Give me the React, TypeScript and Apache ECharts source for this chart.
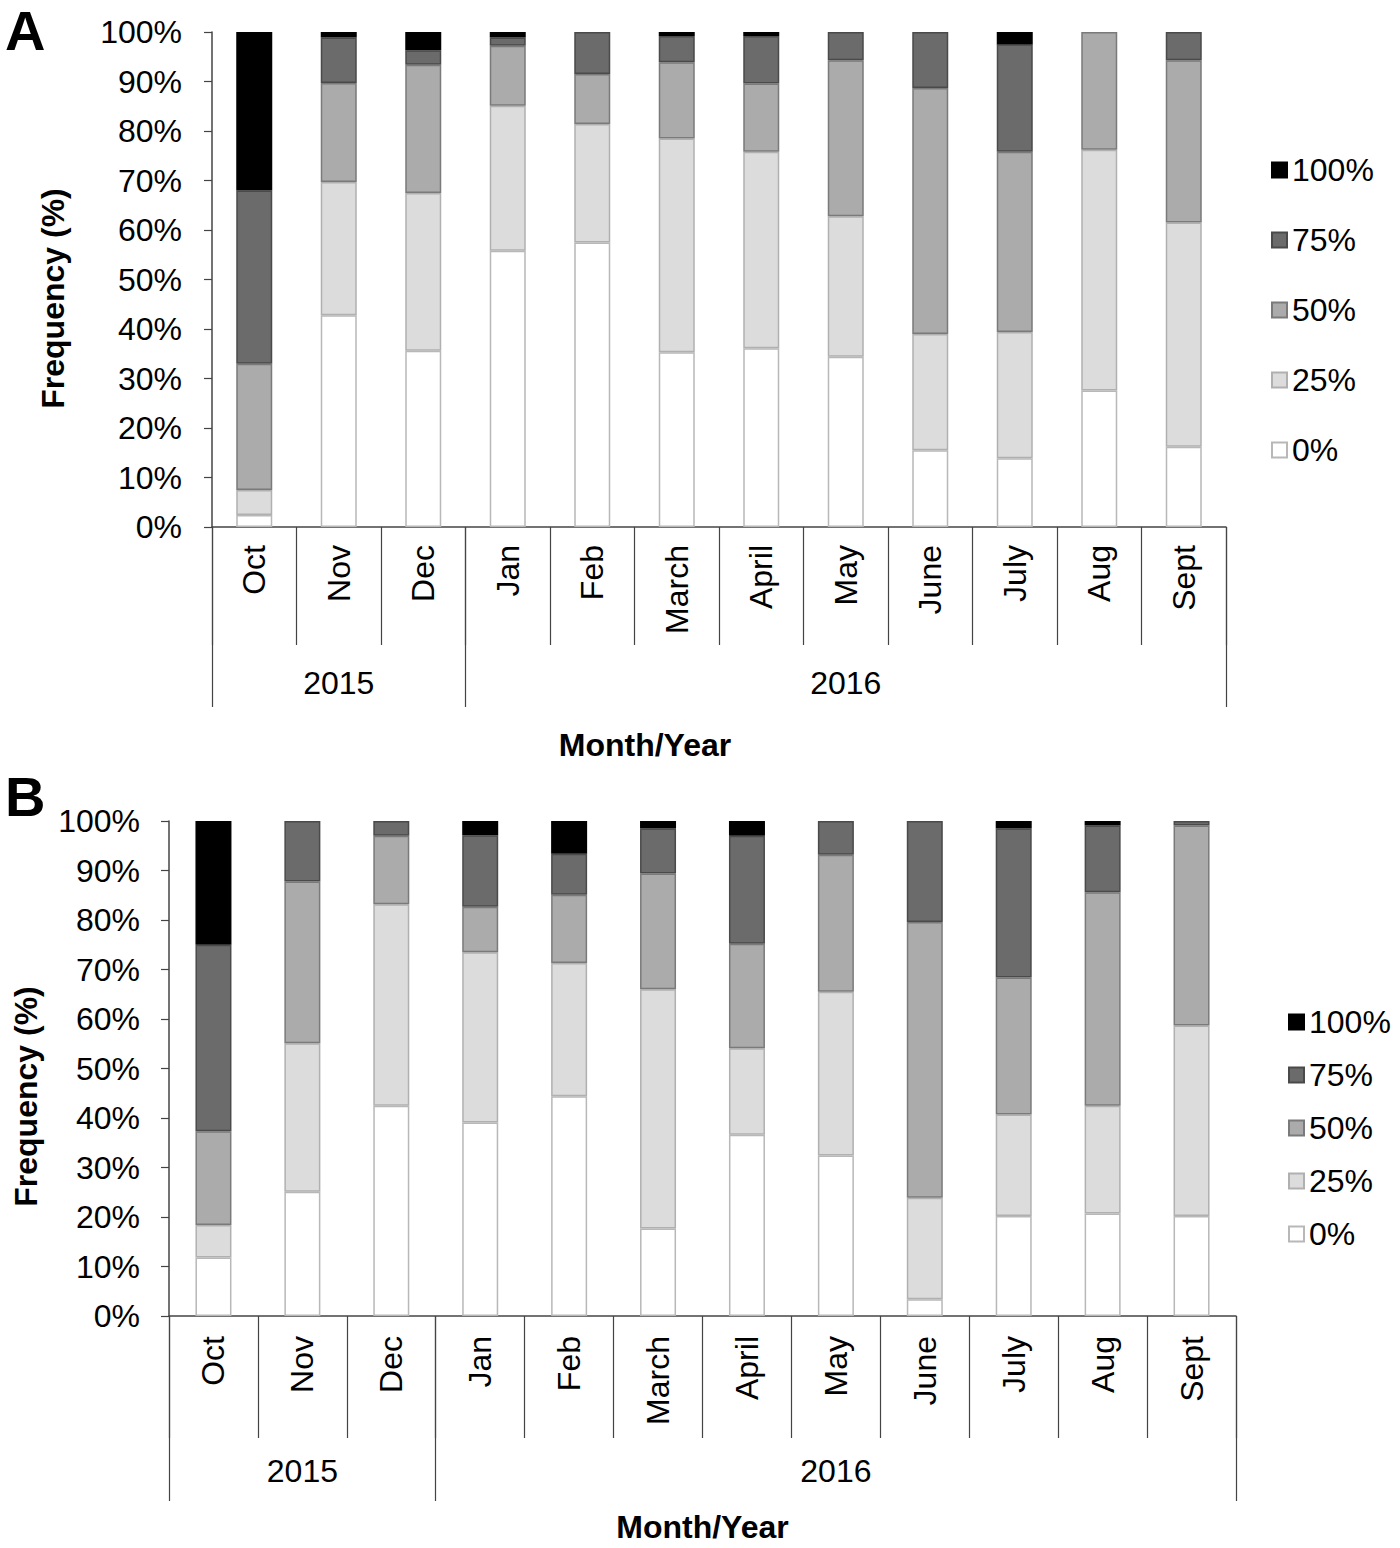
import React, { useEffect, useRef } from "react";
import * as echarts from "echarts";

const months = ["Oct", "Nov", "Dec", "Jan", "Feb", "March", "April", "May", "June", "July", "Aug", "Sept"];
const yearNames = ["2015", "2016"];
const yearStarts = [0, 3];
const yearCounts = [3, 9];
const yTicks = [0, 100, 10];

const seriesNames = ["0%", "25%", "50%", "75%", "100%"];
const legendOrder = ["100%", "75%", "50%", "25%", "0%"];

// Panel A
const a0 = [2.4, 42.8, 35.6, 55.8, 57.5, 35.3, 36.1, 34.4, 15.5, 13.9, 27.6, 16.2];
const a25 = [5.1, 26.9, 31.9, 29.3, 23.9, 43.2, 39.7, 28.4, 23.5, 25.5, 48.6, 45.3];
const a50 = [25.5, 20.0, 25.9, 12.1, 10.1, 15.4, 13.8, 31.5, 49.7, 36.4, 23.8, 32.8];
const a75 = [35.0, 9.2, 2.9, 1.7, 8.5, 5.3, 9.6, 5.7, 11.3, 21.7, 0, 5.7];
const a100 = [32.0, 1.1, 3.7, 1.1, 0, 0.8, 0.8, 0, 0, 2.5, 0, 0];

// Panel B
const b0 = [11.8, 25.1, 42.5, 39.1, 44.4, 17.7, 36.6, 32.4, 3.4, 20.2, 20.7, 20.2];
const b25 = [6.6, 30.0, 40.7, 34.4, 26.9, 48.3, 17.5, 33.1, 20.5, 20.5, 21.8, 38.5];
const b50 = [18.9, 32.7, 13.8, 9.2, 13.8, 23.4, 21.1, 27.7, 55.7, 27.7, 43.1, 40.4];
const b75 = [37.7, 12.2, 3.0, 14.4, 8.3, 9.1, 21.8, 6.8, 20.4, 30.1, 13.5, 0.9];
const b100 = [25.0, 0, 0, 2.9, 6.6, 1.5, 3.0, 0, 0, 1.5, 0.9, 0];

const FONT = "'Liberation Sans', Arial, sans-serif";
const fills = ["#ffffff", "#dcdcdc", "#ababab", "#6b6b6b", "#000000"];
const borders = ["#b8b8b8", "#b0b0b0", "#7a7a7a", "#4a4a4a", "#000000"];

const labelIdx = yearStarts.map((s, i) => s + Math.floor(yearCounts[i] / 2));

function monthAxis(gridIndex: number, nameGap: number, tickLen: number, labelMargin: number, namePad: number[]) {
  return {
    type: "category",
    gridIndex,
    position: "bottom",
    data: months,
    axisLine: { show: true, lineStyle: { color: "#444", width: 1.5 } },
    axisTick: { show: true, interval: 0, length: tickLen, lineStyle: { color: "#444", width: 1.2 } },
    axisLabel: { interval: 0, rotate: 90, fontSize: 32, color: "#000", margin: labelMargin, fontFamily: FONT },
    name: "Month/Year",
    nameLocation: "middle",
    nameGap,
    nameTextStyle: { fontSize: 32, fontWeight: "bold", color: "#000", fontFamily: FONT, padding: namePad },
  };
}

function yearAxis(gridIndex: number, tickLen: number, labelMargin: number) {
  return {
    type: "category",
    gridIndex,
    position: "bottom",
    data: months,
    axisLine: { show: false },
    axisTick: {
      show: true,
      interval: (i: number) => yearStarts.indexOf(i) >= 0,
      length: tickLen,
      lineStyle: { color: "#444", width: 1.2 },
    },
    axisLabel: {
      interval: (i: number) => labelIdx.indexOf(i) >= 0,
      formatter: (_v: string, i: number) => {
        const k = labelIdx.indexOf(i);
        return k >= 0 ? yearNames[k] : "";
      },
      fontSize: 32,
      color: "#000",
      margin: labelMargin,
      fontFamily: FONT,
    },
  };
}

function valueAxis(gridIndex: number, nameGap: number, labelMargin: number, namePad: number[]) {
  return {
    type: "value",
    gridIndex,
    min: yTicks[0],
    max: yTicks[1],
    interval: yTicks[2],
    axisLine: { show: true, lineStyle: { color: "#444", width: 1.5 } },
    axisTick: { show: true, length: 8, lineStyle: { color: "#444", width: 1.2 } },
    splitLine: { show: false },
    axisLabel: { formatter: "{value}%", fontSize: 32, color: "#000", margin: labelMargin, fontFamily: FONT },
    name: "Frequency (%)",
    nameLocation: "middle",
    nameRotate: 90,
    nameGap,
    nameTextStyle: { fontSize: 32, fontWeight: "bold", color: "#000", fontFamily: FONT, padding: namePad },
  };
}

function makeSeries(data: number[][], xIdx: number, yIdx: number, stack: string) {
  return data.map((vals, k) => ({
    type: "bar",
    name: seriesNames[k],
    stack,
    xAxisIndex: xIdx,
    yAxisIndex: yIdx,
    barWidth: 36,
    data: vals.map((v) => (v === 0 ? null : v)),
    itemStyle: { color: fills[k], borderColor: borders[k], borderWidth: 1.5 },
  }));
}

function legendAt(left: number, top: number, gap: number) {
  return {
    data: legendOrder.map((n) => ({ name: n, icon: "rect" })),
    orient: "vertical",
    left,
    top,
    itemWidth: 15,
    itemHeight: 15,
    itemGap: gap,
    textStyle: { fontSize: 32, color: "#000", lineHeight: 32, fontFamily: FONT },
    selectedMode: false,
  };
}

export default function App() {
  const ref = useRef<HTMLDivElement>(null);
  useEffect(() => {
    if (!ref.current) return;
    const chart = echarts.init(ref.current, undefined, { renderer: "svg" });
    chart.setOption({
      animation: false,
      backgroundColor: "#ffffff",
      textStyle: { fontFamily: FONT },
      graphic: [
        { type: "text", left: 5, top: 2, style: { text: "A", font: `bold 56px ${FONT}`, fill: "#000" } },
        { type: "text", left: 5, top: 768, style: { text: "B", font: `bold 56px ${FONT}`, fill: "#000" } },
      ],
      grid: [
        { left: 212, top: 32, width: 1014, height: 495 },
        { left: 169, top: 821, width: 1067, height: 495 },
      ],
      xAxis: [
        monthAxis(0, 202, 118, 18, [0, 148, 0, 0]),
        yearAxis(0, 180, 140),
        monthAxis(1, 195, 122, 20, [0, 0, 0, 0]),
        yearAxis(1, 185, 139),
      ],
      yAxis: [valueAxis(0, 143, 30, [0, 38, 0, 0]), valueAxis(1, 127, 29, [0, 56, 0, 0])],
      legend: [legendAt(1266, 149, 38), legendAt(1283, 1001, 21)],
      series: [
        ...makeSeries([a0, a25, a50, a75, a100], 0, 0, "A"),
        ...makeSeries([b0, b25, b50, b75, b100], 2, 1, "B"),
      ],
    });
    return () => chart.dispose();
  }, []);
  return (
    <div
      ref={ref}
      style={{ position: "absolute", left: 0, top: 0, width: 1400, height: 1548, background: "#fff" }}
    />
  );
}
